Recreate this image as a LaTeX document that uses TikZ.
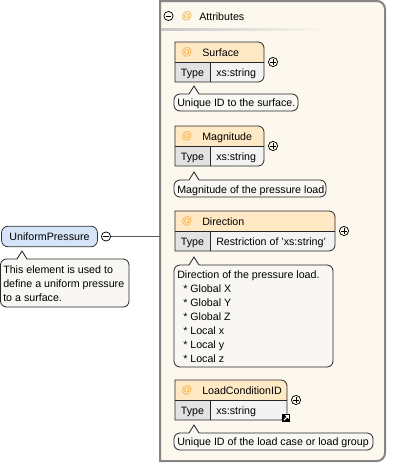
\documentclass[tikz,border=0pt]{standalone}
\usepackage{fontspec}
\setmainfont{Liberation Sans}
\definecolor{cont}{HTML}{FDF8EE}
\definecolor{hdr}{HTML}{FFE9C4}
\definecolor{typec}{HTML}{E2E2E2}
\definecolor{valc}{HTML}{F3F3F3}
\definecolor{cmt}{HTML}{F8F7F3}
\definecolor{upf}{HTML}{D6E4F8}
\definecolor{atc}{HTML}{F2A83A}
\definecolor{contline}{HTML}{858585}
\tikzset{
  txt/.style={inner sep=0pt, font=\fontsize{8}{10.5}\selectfont, text=black},
  boxline/.style={draw=black!85, line width=0.6pt},
  pmnode/.style={circle, draw=black, line width=0.55pt, minimum size=6.9pt, inner sep=0pt},
  plussign/.style={pmnode, path picture={
      \draw[line width=0.55pt] ([xshift=-2pt]path picture bounding box.center) -- ([xshift=2pt]path picture bounding box.center);
      \draw[line width=0.55pt] ([yshift=-2pt]path picture bounding box.center) -- ([yshift=2pt]path picture bounding box.center);}},
  minussign/.style={pmnode, path picture={
      \draw[line width=0.55pt] ([xshift=-2pt]path picture bounding box.center) -- ([xshift=2pt]path picture bounding box.center);}},
}
\newcommand{\attrbox}[5]{%
  \pgfmathsetmacro{\yb}{#2+20}%
  \pgfmathsetmacro{\yc}{#2+40}%
  \fill[hdr] (#1,#2) -- (#3-6,#2) arc[start angle=-90,end angle=0,radius=6] -- (#3,\yb) -- (#1,\yb) -- cycle;
  \fill[typec] (#1,\yb) rectangle (210,\yc);
  \fill[valc] (210,\yb) -- (#3,\yb) -- (#3,\yc-6) arc[start angle=0,end angle=90,radius=6] -- (210,\yc) -- cycle;
  \draw[boxline] (#1,#2) -- (#3-6,#2) arc[start angle=-90,end angle=0,radius=6] -- (#3,\yc-6) arc[start angle=0,end angle=90,radius=6] -- (#1,\yc) -- cycle;
  \draw[boxline] (#1,\yb) -- (#3,\yb) (210,\yb) -- (210,\yc);
  \node[txt, text=atc] (#4-at) at (187,#2+10) {@};
  \node[txt, anchor=base west] (#4) at (202,#2+14.5) {#4};
  \node[txt, anchor=base] (#4-type) at (192.5,\yc-5.5) {Type};
  \node[txt, anchor=base west] (#4-val) at (216,\yc-5.5) {#5};
  \node[plussign] (#4-plus) at (#3+9,\yb) {};
}
\newcommand{\cmtbox}[5]{%
  \draw[boxline, fill=cmt, rounded corners=4.5pt] (#1,#2) rectangle (#3,#4);
  \fill[cmt] (#5-5,#2+0.9) -- (#5,#2-8) -- (#5+5,#2+0.9) -- cycle;
  \draw[boxline] (#5-5,#2) -- (#5,#2-8) -- (#5+5,#2);
}
\begin{document}
\begin{tikzpicture}[x=0.75pt,y=-0.75pt]
\useasboundingbox (0,0) rectangle (404,464);
% container
\fill[cont] (160,1) -- (377,1) arc[start angle=-90,end angle=0,radius=8] -- (385,453) arc[start angle=0,end angle=90,radius=8] -- (160,461) -- cycle;
\draw[contline, line width=1.5pt] (160,1) -- (377,1) arc[start angle=-90,end angle=0,radius=8] -- (385,453) arc[start angle=0,end angle=90,radius=8] -- (160,461) -- cycle;
\shade[left color=black!22, right color=cont] (161,28.8) rectangle (330,30.6);
\node[minussign] (attr-minus) at (168.5,16) {};
\node[txt, text=atc] (attr-at) at (187,16) {@};
\node[txt, anchor=base west] (attr) at (199,20) {Attributes};
% attributes
\attrbox{175}{42}{264}{Surface}{xs:string}
\cmtbox{174}{94}{298}{111}{194}
\node[txt, anchor=base west] (c-surface) at (177,106.5) {Unique ID to the surface.};
\attrbox{175}{126}{264}{Magnitude}{xs:string}
\cmtbox{174}{180}{326}{197}{194}
\node[txt, anchor=base west] (c-magnitude) at (177,193) {Magnitude of the pressure load};
\attrbox{175}{211}{335}{Direction}{Restriction of 'xs:string'}
\cmtbox{174}{265}{333}{367}{194}
\node[txt, anchor=base west] (c-dir0) at (177,278) {Direction of the pressure load.};
\foreach \t [count=\i] in {Global X,Global Y,Global Z,Local x,Local y,Local z}{
  \node[txt, anchor=base west] (c-dir\i) at (183,278+14*\i) {* \t};
}
\attrbox{175}{380}{287}{LoadConditionID}{xs:string}
\fill[black] (282,414) rectangle (290,422);
\draw[white, line width=0.8pt] (284,420) -- (287.5,416.5);
\fill[white] (288.8,415.2) -- (285.2,415.2) -- (288.8,418.8) -- cycle;
\cmtbox{174}{433}{373}{450}{194}
\node[txt, anchor=base west] (c-load) at (177,445.5) {Unique ID of the load case or load group};
% root element
\node[txt, draw=black!80, line width=0.6pt, fill=upf, rounded corners=5pt, minimum width=72pt, minimum height=15.5pt] (up) at (49.5,236.5) {UniformPressure};
\node[minussign] (up-minus) at (106,236.5) {};
\coordinate (attr-in) at (159.5,236.5);
\draw[black!65, line width=1.4pt] (up-minus.east) -- (attr-in);
\cmtbox{0.5}{259}{129}{307}{22}
\node[txt, anchor=base west] (c-up1) at (3,273) {This element is used to};
\node[txt, anchor=base west] (c-up2) at (3,287) {define a uniform pressure};
\node[txt, anchor=base west] (c-up3) at (3,301) {to a surface.};
\end{tikzpicture}
\end{document}
